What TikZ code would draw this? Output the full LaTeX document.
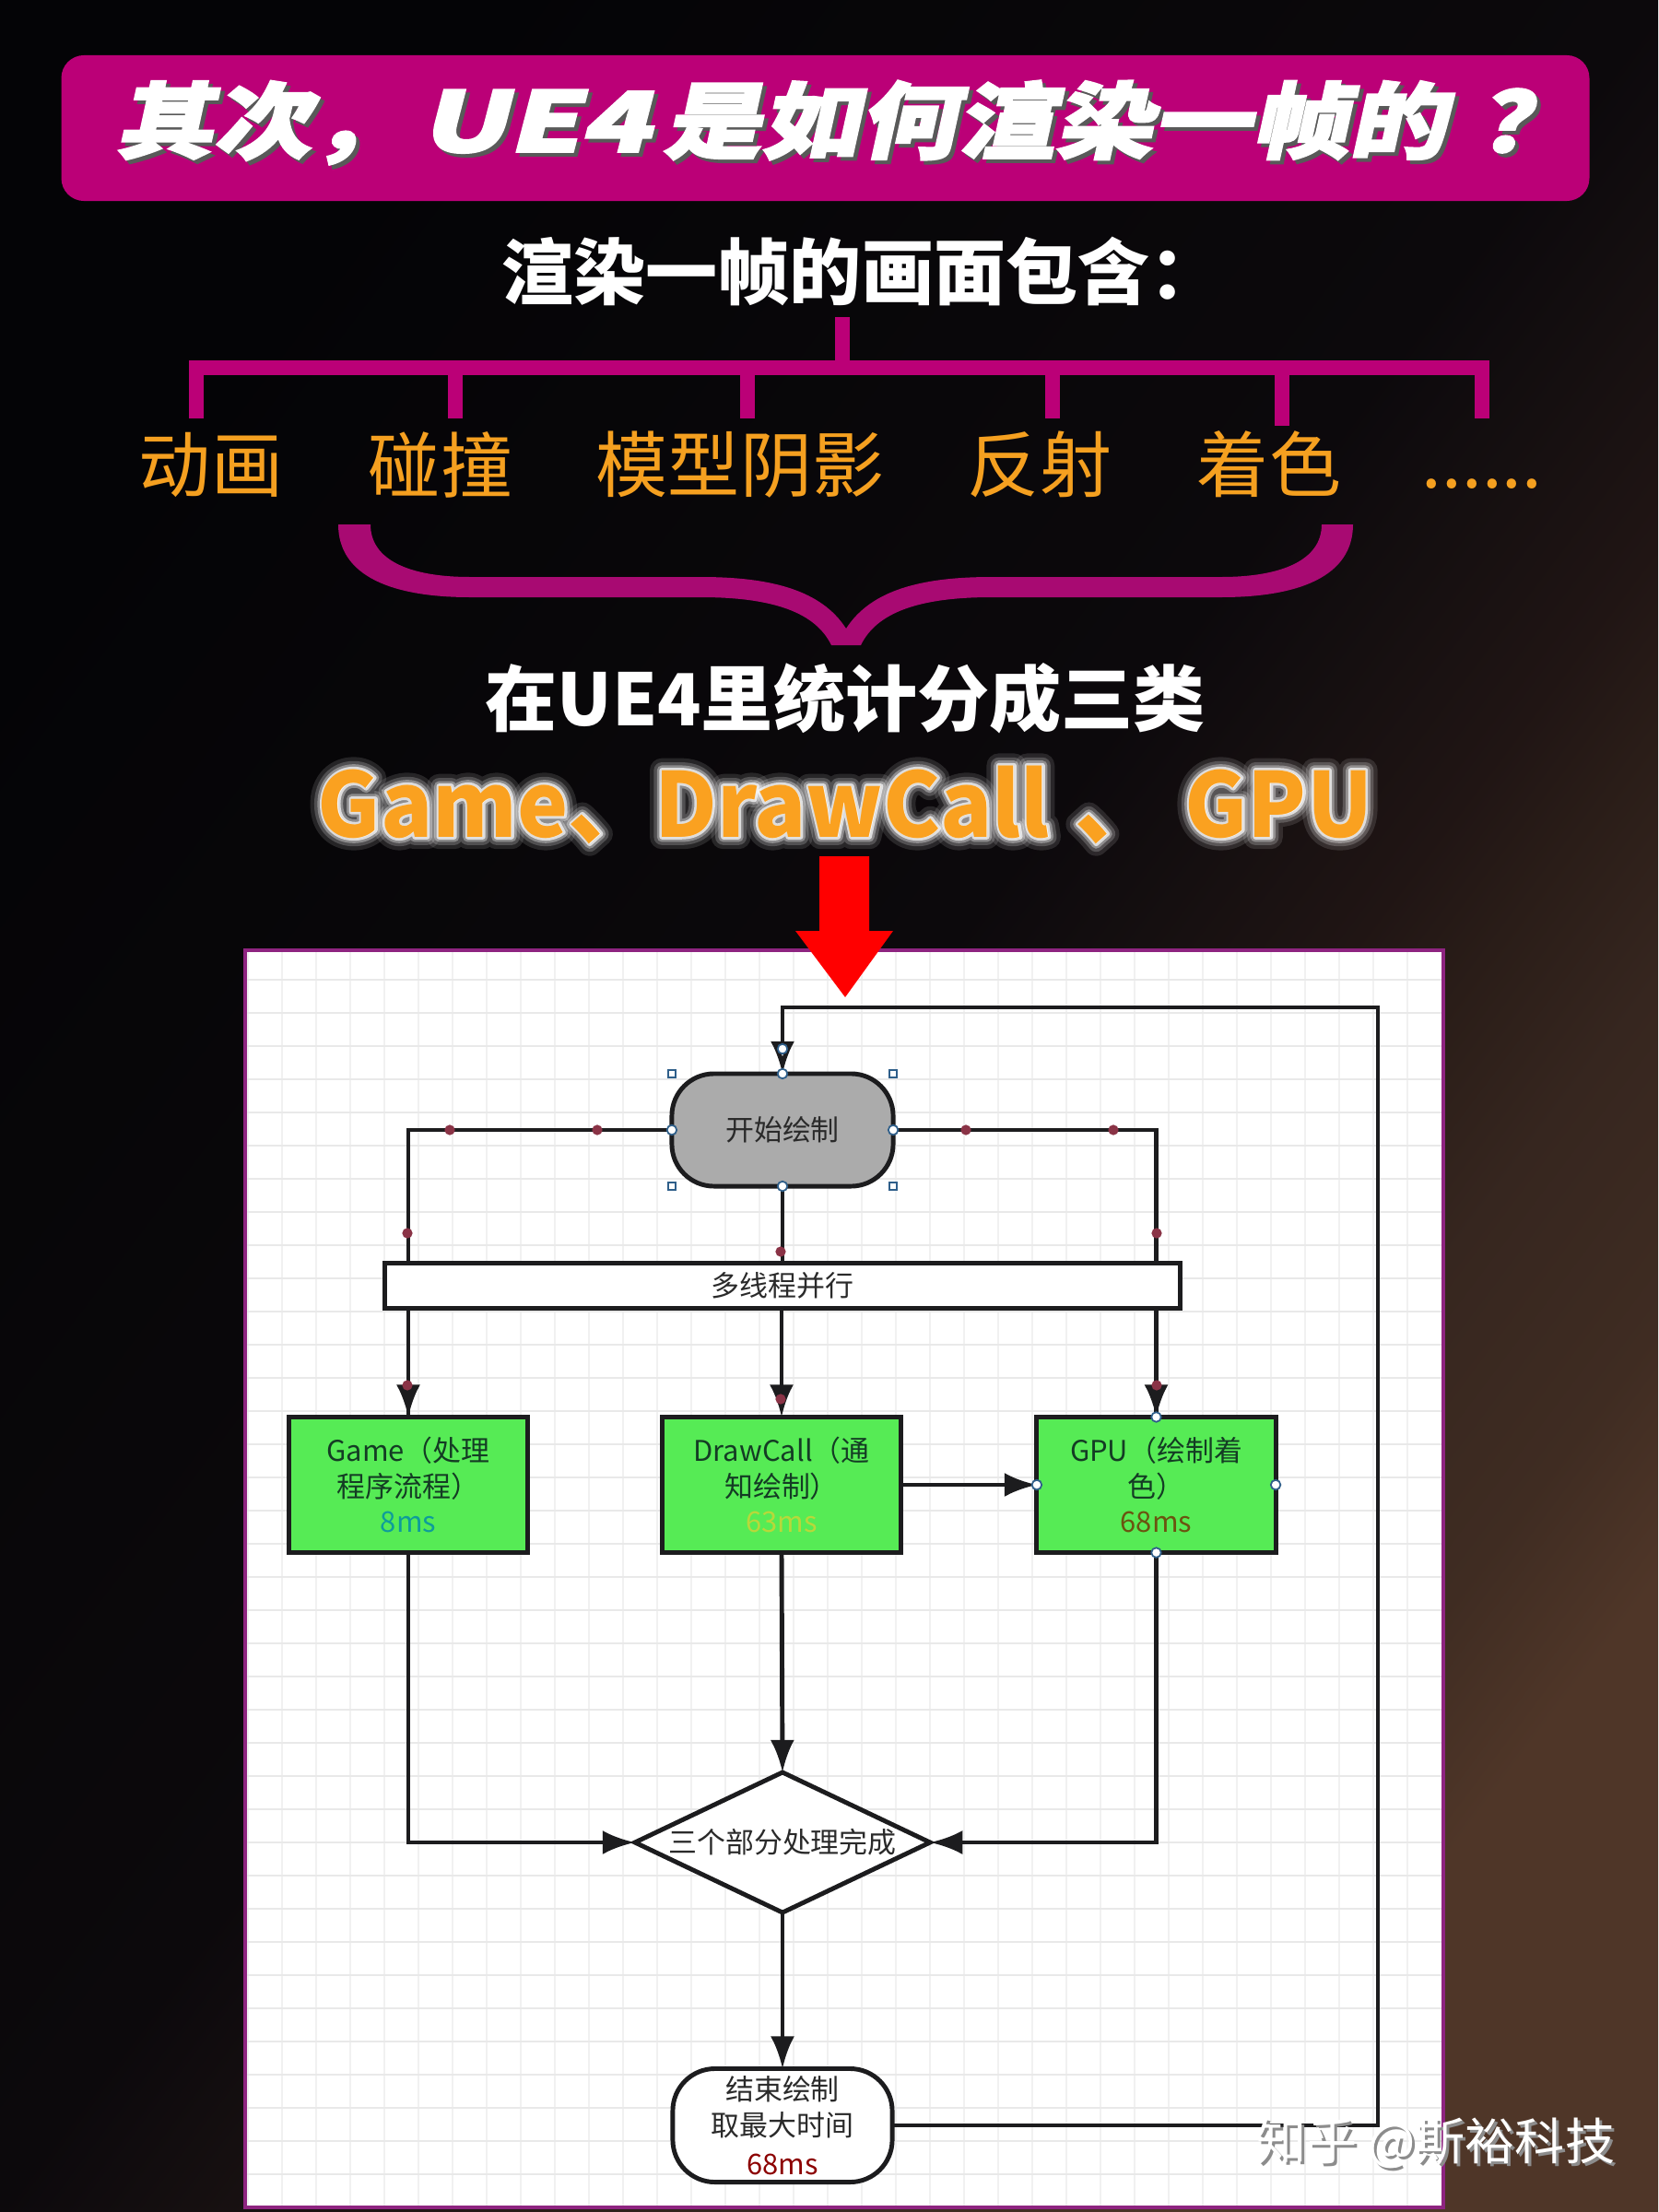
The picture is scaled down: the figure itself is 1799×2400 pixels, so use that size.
\documentclass[tikz,border=0pt]{standalone}
\usepackage{fontspec}
\usetikzlibrary{arrows.meta,shapes.geometric,backgrounds}
\setmainfont{Noto Sans CJK SC}
\newfontfamily\titlefont[BoldFeatures={FakeSlant=0.22,FakeStretch=1.18,FakeBold=2.5}]{Noto Sans CJK SC}
\newfontfamily\classfont[BoldFeatures={FakeStretch=.96}]{Noto Sans CJK SC}
\newfontfamily\glowa[BoldFeatures={FakeStretch=.96,FakeBold=27}]{Noto Sans CJK SC}
\newfontfamily\glowb[BoldFeatures={FakeStretch=.96,FakeBold=18}]{Noto Sans CJK SC}
\newfontfamily\glowc[BoldFeatures={FakeStretch=.96,FakeBold=11}]{Noto Sans CJK SC}
\newfontfamily\glowd[BoldFeatures={FakeStretch=.96,FakeBold=5.5}]{Noto Sans CJK SC}

\definecolor{bgbrown}{HTML}{4F3628}
\definecolor{bgbrowna}{HTML}{3F2C22}
\definecolor{bgbrownb}{HTML}{36261F}
\definecolor{bgbrownc}{HTML}{2A1D18}
\definecolor{bgbrownd}{HTML}{201514}
\definecolor{bgbrowne}{HTML}{150F10}
\definecolor{bgdark}{HTML}{0C090C}
\definecolor{bgblack}{HTML}{040406}
\definecolor{magentabar}{HTML}{BB0077}
\definecolor{bracecolor}{HTML}{A80A72}
\definecolor{panelrim}{HTML}{8E2480}
\definecolor{labelorange}{HTML}{F5A020}
\definecolor{classorange}{HTML}{FAA120}
\definecolor{boxgreen}{HTML}{56EB55}
\definecolor{boxink}{HTML}{143C24}
\definecolor{gridthin}{HTML}{F1F1F1}
\definecolor{gridwide}{HTML}{E9E9E9}
\definecolor{flowink}{HTML}{1C1C1E}
\definecolor{flowtext}{HTML}{2A2A2A}
\definecolor{waydot}{HTML}{8A3346}
\definecolor{handleblue}{HTML}{2F5F8A}
\definecolor{msyellow}{HTML}{B8D83A}
\definecolor{msolive}{HTML}{6B5410}
\definecolor{msteal}{HTML}{0E9C9A}

\pgfdeclareverticalshading{bgfade}{100bp}{color(0bp)=(bgbrown); color(25bp)=(bgbrown); color(29bp)=(bgbrowna); color(34.5bp)=(bgbrownb); color(38.5bp)=(bgbrownc); color(41.5bp)=(bgbrownd); color(46bp)=(bgbrowne); color(50bp)=(bgdark); color(75bp)=(bgblack); color(100bp)=(bgblack)}

\tikzset{
  headtext/.style={text=white, inner sep=0pt, font=\fontsize{22.2}{26}\selectfont\bfseries},
  itemtext/.style={text=labelorange, inner sep=0pt, font=\fontsize{22.2}{26}\selectfont},
  bigtext/.style={inner sep=0pt, font=\fontsize{27.6}{32}\selectfont\bfseries},
  halotext/.style={bigtext, text=white},
  titletext/.style={inner sep=0pt, font=\fontsize{25.6}{30}\selectfont\titlefont\bfseries},
  bracket/.style={draw=magentabar, line width=4.4pt},
  flowbox/.style={draw=flowink, line width=1.4pt, inner sep=0pt, outer sep=0pt, align=center, text=flowtext,
    font=\fontsize{8.8}{11}\selectfont},
  greenbox/.style={flowbox, fill=boxgreen, minimum width=2.59cm, minimum height=1.47cm, text=boxink},
  pillbox/.style={flowbox, rounded corners=13pt},
  flowline/.style={draw=flowink, line width=1.4pt},
  flowarrow/.style={flowline, -{Latex[length=10pt,width=7.4pt]}},
  hollowarrow/.style={flowline, -{Latex[length=10pt,width=7.4pt,fill=white]}},
  waypoint/.style={circle, fill=waydot, inner sep=0pt, minimum size=3.2pt},
  handlesq/.style={draw=handleblue, fill=white, line width=.5pt, inner sep=0pt, minimum size=2.4pt},
  handledot/.style={circle, draw=handleblue, fill=white, line width=.5pt, inner sep=0pt, minimum size=3pt},
}

\begin{document}
\begin{tikzpicture}[x=0.01cm,y=-0.01cm]
\useasboundingbox (0,0) rectangle (1799,2400);

% background and white sheet with its grid
\begin{scope}[on background layer]
\shade[shading=bgfade, shading angle=53] (0,0) rectangle (1799,2400);
\fill[white] (266,1031) rectangle (1566,2395);
\foreach \gx in {0,...,34} \draw[gridthin, line width=.4pt] (269+37*\gx,1033) -- (269+37*\gx,2393);
\foreach \gy in {0,...,37} \draw[gridwide, line width=.7pt] (268,1063+36*\gy) -- (1564,1063+36*\gy);
\draw[panelrim, line width=1.3pt] (266,1031) rectangle (1566,2395);
\end{scope}

% title bar
\node[fill=magentabar, rounded corners=7pt, minimum width=16.57cm, minimum height=1.58cm, inner sep=0pt] (titlebar) at (895.5,139) {};
\def\titlestring{其次，\hspace{3pt}\scalebox{1.18}[1]{UE4}\hspace{4pt}是如何渲染一帧的\hspace{10pt}？}
\node[titletext, text=black!65] (titleshadow) at (922,137) {\titlestring};
\node[titletext, text=white] (titlelabel) at (918,133) {\titlestring};

% what one frame holds
\node[headtext] (holds) at (935,294) {渲染一帧的画面包含：};
\coordinate (stemtop) at (914,344);
\coordinate (stembot) at (914,399);
\draw[bracket] (stemtop) -- (stembot);
\coordinate (barleft) at (213,454);
\coordinate (barright) at (1608,454);
\draw[bracket, line join=miter] (barleft) |- (914,399) -| (barright);

\node[itemtext] (anim) at (229,504) {动画};
\node[itemtext] (coll) at (478,504) {碰撞};
\node[itemtext] (shadow) at (803,504) {模型阴影};
\node[itemtext] (refl) at (1128,504) {反射};
\node[itemtext] (shade) at (1377,504) {着色};
\node[itemtext] (more) at (1608,525) {......};

\foreach \dropx/\dropy in {494/454,811/454,1142/454,1391/462}
  \draw[bracket] (\dropx,399) -- (\dropx,\dropy);

% curly brace below the items
\fill[bracecolor] (367,569) .. controls (367,625) and (425,648) .. (510,648) -- (760,648)
  .. controls (840,648) and (885,665) .. (902,700) -- (934,700)
  .. controls (951,665) and (996,648) .. (1076,648) -- (1325,648)
  .. controls (1410,648) and (1468,625) .. (1468,569) -- (1434,569)
  .. controls (1434,608) and (1390,626) .. (1325,626) -- (1076,626)
  .. controls (1000,626) and (945,640) .. (918,682)
  .. controls (891,640) and (836,626) .. (760,626) -- (510,626)
  .. controls (445,626) and (402,608) .. (402,569) -- cycle;

\node[headtext] (sorted) at (917,758) {在UE4里统计分成三类};

% the three classes with a soft white halo
\def\classstring{Game、DrawCall\hspace{7.9pt}、\hspace{7.4pt}GPU}
\begin{scope}[line join=round]
\node[halotext, opacity=.12] (haloa) at (917,873) {\glowa\bfseries\classstring};
\node[halotext, opacity=.2] (halob) at (917,873) {\glowb\bfseries\classstring};
\node[halotext, opacity=.35] (haloc) at (917,873) {\glowc\bfseries\classstring};
\node[halotext, opacity=.7] (halod) at (917,873) {\glowd\bfseries\classstring};
\end{scope}
\node[bigtext, text=classorange] (classes) at (917,873) {\classfont\bfseries\classstring};

% flow chart nodes
\node[pillbox, fill=black!33, minimum width=2.4cm, minimum height=1.22cm] (start) at (849,1226) {开始绘制};
\node[flowbox, fill=white, minimum width=8.62cm, minimum height=.49cm] (parallel) at (849,1395) {多线程并行};
\node[greenbox] (game) at (443,1611) {Game（处理\\程序流程）\\\textcolor{msteal}{8ms}};
\node[greenbox] (drawcall) at (848,1611) {DrawCall（通\\知绘制）\\\textcolor{msyellow}{63ms}};
\node[greenbox] (gpu) at (1254.5,1611) {GPU（绘制着\\色）\\\textcolor{msolive}{68ms}};
\node[diamond, flowbox, fill=white, minimum width=3.2cm, minimum height=1.52cm, aspect=2.1] (done) at (849,1999) {三个部分处理完成};
\node[pillbox, fill=white, minimum width=2.38cm, minimum height=1.23cm] (finish) at (849,2306) {结束绘制\\取最大时间\\[1pt]\textcolor{red!55!black}{68ms}};

% connectors stay under the boxes
\coordinate (loopright) at (1495,2306);
\coordinate (looptop) at (1495,1093);
\coordinate (loopleft) at (849,1093);
\begin{scope}[on background layer]
\draw[flowline] (start.west) -| (game.north);
\draw[flowline] (start.east) -| (gpu.north);
\draw[flowline] (start.south) -- (parallel.north);
\end{scope}
\draw[flowarrow] (parallel.south -| game.north) -- (game.north);
\draw[flowarrow] (parallel.south -| drawcall.north) -- (drawcall.north);
\draw[flowarrow] (parallel.south -| gpu.north) -- (gpu.north);
\draw[flowarrow] (drawcall.east) -- (gpu.west);
\draw[flowarrow] (drawcall.south) -- (done.north);
\draw[flowarrow] (game.south) |- (done.west);
\draw[flowarrow] (gpu.south) |- (done.east);
\draw[flowarrow] (done.south) -- (finish.north);
\draw[hollowarrow] (finish.east) -- (loopright) -- (looptop) -- (loopleft) -- (start.north);

% small marks left on the lines
\foreach \mx/\my [count=\mi] in {488/1226,648/1226,1048/1226,1208/1226,442/1338,847/1358,1255/1338,442/1503,847/1518,1255/1503}
  \node[waypoint] (way\mi) at (\mx,\my) {};

% selection handles
\foreach \anc [count=\hi] in {north west,north east,south west,south east}
  \node[handlesq] (sq\hi) at (start.\anc) {};
\foreach \anc [count=\hi] in {north,south,west,east}
  \node[handledot] (dotstart\hi) at (start.\anc) {};
\foreach \anc [count=\hi] in {north,south,west,east}
  \node[handledot] (dotgpu\hi) at (gpu.\anc) {};
\node[handledot] (dotloop) at (849,1138) {};

% big red arrow into the sheet
\fill[red] (889,929) -- (943,929) -- (943,1010) -- (969,1010) -- (917,1082) -- (863,1010) -- (889,1010) -- cycle;

% watermark
\node[inner sep=0pt, text=black!45, font=\fontsize{15.4}{18}\selectfont] (markshadow) at (1561,2328) {知乎 @斯裕科技};
\node[inner sep=0pt, text=white, font=\fontsize{15.4}{18}\selectfont] (mark) at (1558,2325) {知乎 @斯裕科技};
\end{tikzpicture}
\end{document}
